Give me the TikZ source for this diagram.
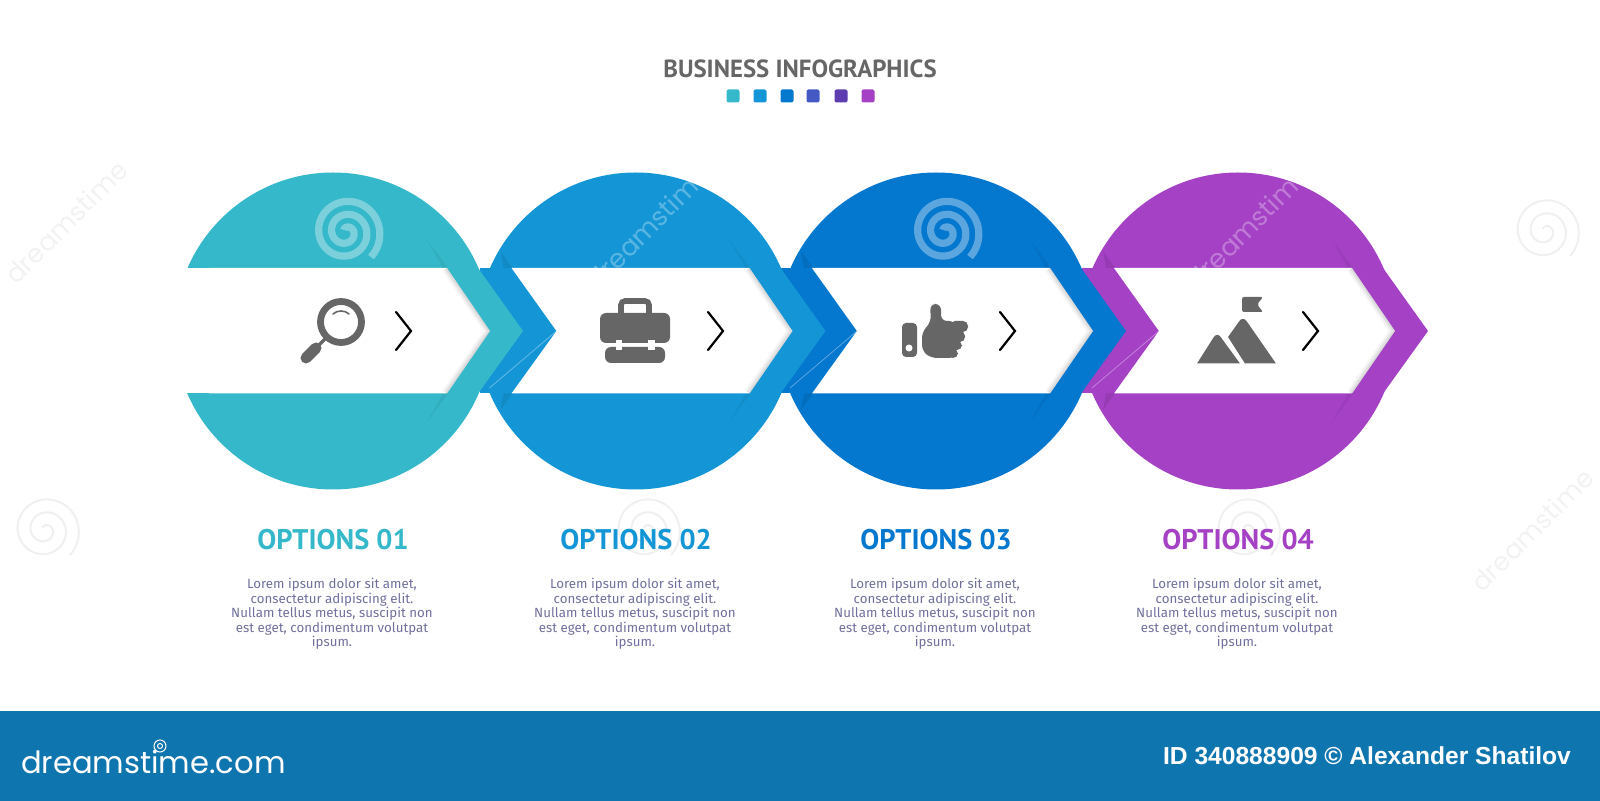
\documentclass[tikz,border=0pt]{standalone}
\usepackage{fontspec}
\usepackage{xcolor}
\setmainfont{Fira Sans}
\newfontfamily\headfont{PT Sans}
\newfontfamily\logofont{Poppins}
\newfontfamily\creditfont{Liberation Sans}
\definecolor{optteal}{RGB}{53, 184, 201}
\definecolor{optblue}{RGB}{20, 150, 214}
\definecolor{optdark}{RGB}{4, 119, 207}
\definecolor{optindigo}{RGB}{69, 89, 196}
\definecolor{optviolet}{RGB}{94, 61, 176}
\definecolor{optpurple}{RGB}{164, 65, 197}
\definecolor{icongray}{RGB}{102, 102, 102}
\definecolor{bodygray}{RGB}{112, 112, 158}
\definecolor{footerblue}{RGB}{15, 117, 174}
\begin{document}
\begin{tikzpicture}[
    x=0.5pt, y=-0.5pt,
    heading/.style={font=\headfont\bfseries\fontsize{14.2}{18}\selectfont},
    bodytext/.style={align=center, text=bodygray, font=\fontsize{6.65}{7.2}\selectfont},
    colordot/.style={rectangle, rounded corners=1pt, minimum size=6.5pt, inner sep=0pt},
    icon/.style={fill=icongray, draw=none},
    pointer/.style={line width=1.1pt, line cap=round, line join=miter},
    swirl/.style={line width=3.6pt, white, opacity=0.35, domain=0:900, samples=90, smooth},
    faintswirl/.style={swirl, line width=1pt, gray, opacity=0.12},
    stamp/.style={rotate=45, font=\logofont\fontsize{13}{13}\selectfont, opacity=0.3, text=white}
]
    \useasboundingbox (0,0) rectangle (1600,801);

    % Circles, chevrons and white arrows, last one first
    \foreach \cx/\col in {1238/optpurple, 936/optdark, 635.5/optblue, 333/optteal} {
        \fill[\col] (\cx,331) circle (158.5);
        \fill[\col] (\cx-156,268) rectangle (\cx,393.5);
        \fill[\col] (\cx+100,268) -- (\cx+145,268) -- (\cx+190,331) -- (\cx+145,393.5) -- (\cx+100,393.5) -- cycle;
        \fill[black, opacity=0.05] (\cx+94,240) -- (\cx+115,268) -- (\cx+110,268) -- cycle;
        \fill[black, opacity=0.05] (\cx+94,422) -- (\cx+115,393.5) -- (\cx+110,393.5) -- cycle;
        \fill[white] (\cx-124,268) -- (\cx+114,268) -- (\cx+157,331) -- (\cx+114,393.5) -- (\cx-124,393.5) -- (\cx-79,331) -- cycle;
        \begin{scope}
            \clip (\cx-124,268) -- (\cx+114,268) -- (\cx+157,331) -- (\cx+114,393.5) -- (\cx-124,393.5) -- (\cx-79,331) -- cycle;
            \foreach \w in {2,4,6,8,11}
                \draw[black, opacity=0.03, line width=\w*0.5pt] (\cx+114,268) -- (\cx+157,331) -- (\cx+114,393.5);
        \end{scope}
        \draw[white, opacity=0.35, line width=0.4pt] (\cx-79,331) -- (\cx-146,388);
    }
    \fill[white] (170,268) rectangle (270,393.5);

    % Shadows beside the notches
    \foreach \cx in {635.5, 936, 1238} {
        \fill[black, opacity=0.08] (\cx-135,251) -- (\cx-123,268) -- (\cx-132,268) -- cycle;
        \fill[black, opacity=0.08] (\cx-135,410) -- (\cx-123,393.5) -- (\cx-132,393.5) -- cycle;
    }

    % Watermarks
    \draw[swirl] plot ({346+(3+\x*0.036)*cos(\x+225)}, {232+(3+\x*0.036)*sin(\x+225)});
    \draw[swirl] plot ({945+(3+\x*0.036)*cos(\x+225)}, {232+(3+\x*0.036)*sin(\x+225)});
    \foreach \wx/\wy in {1545/231, 45/530, 646/530, 1246/530}
        \draw[faintswirl] plot ({\wx+(3+\x*0.036)*cos(\x+225)}, {\wy+(3+\x*0.036)*sin(\x+225)});
    \node[stamp] (stampb) at (648,227) {dreamstime};
    \node[stamp] (stampd) at (1248,227) {dreamstime};
    \node[stamp, text=gray, opacity=0.1] (stampa) at (66,222) {dreamstime};
    \node[stamp, text=gray, opacity=0.1] (stampe) at (1532,530) {dreamstime};

    % Title
    \node[font=\headfont\bfseries\fontsize{12.4}{14}\selectfont, text=icongray] (title) at (800,69) {BUSINESS INFOGRAPHICS};
    \node[colordot, fill=optteal] (dota) at (733,96) {};
    \node[colordot, fill=optblue] (dotb) at (760,96) {};
    \node[colordot, fill=optdark] (dotc) at (787,96) {};
    \node[colordot, fill=optindigo] (dotd) at (813,96) {};
    \node[colordot, fill=optviolet] (dote) at (841,96) {};
    \node[colordot, fill=optpurple] (dotf) at (868,96) {};

    % Magnifier
    \draw[icongray, line width=3.4pt] (341,322) circle (20.5);
    \draw[icongray, line width=0.8pt, line cap=round] (333,314) .. controls (337,310) and (345,310) .. (349,314);
    \draw[icongray, line width=1.6pt] (327,337) -- (318,346);
    \draw[icongray, line width=5.5pt, line cap=round] (316,348) -- (306,358);

    % Briefcase
    \draw[icongray, line width=2.8pt, rounded corners=2pt] (621,313) -- (621,301) -- (649,301) -- (649,313);
    \fill[icon, rounded corners=3pt] (600,313) rectangle (670,343);
    \fill[icon, rounded corners=3pt] (605,347) rectangle (665,363);
    \fill[white] (616,340) rectangle (622,350);
    \fill[white] (648,340) rectangle (655,350);

    % Thumb
    \fill[icon, rounded corners=2pt] (902,323) rectangle (917,357);
    \fill[white] (909,348) circle (3.5);
    \fill[icon, rounded corners=3pt] (922,332) -- (931,322) -- (930,304) -- (941,304) -- (941,321) -- (955,321) -- (955,358) -- (931,358) -- (922,351) -- cycle;
    \fill[icon, rounded corners=2.5pt] (950,321) rectangle (968,332);
    \fill[icon, rounded corners=2.5pt] (950,331) rectangle (965,342);
    \fill[icon, rounded corners=2.5pt] (950,341) rectangle (962,350);
    \fill[icon, rounded corners=2.5pt] (948,349) rectangle (958,358);

    % Mountains
    \fill[icon, rounded corners=1pt] (1242,297) -- (1263,297) -- (1257,304.5) -- (1263,312) -- (1242,312) -- cycle;
    \fill[icon] (1228,337) [rounded corners=3pt] -- (1243,316) [sharp corners] -- (1276,363.5) -- (1245,363.5) -- cycle;
    \fill[icon] (1197,363.5) [rounded corners=3pt] -- (1217,332) [sharp corners] -- (1240,363.5) -- cycle;

    % Small pointers
    \draw[pointer] (396,312) -- (411,331) -- (396,350);
    \draw[pointer] (708,312) -- (723,331) -- (708,350);
    \draw[pointer] (1000,312) -- (1015,331) -- (1000,350);
    \draw[pointer] (1303,312) -- (1318,331) -- (1303,350);

    % Options
    \node[heading, text=optteal] (opta) at (333,540) {OPTIONS 01};
    \node[heading, text=optblue] (optb) at (636,540) {OPTIONS 02};
    \node[heading, text=optdark] (optc) at (936,540) {OPTIONS 03};
    \node[heading, text=optpurple] (optd) at (1238,540) {OPTIONS 04};

    \node[bodytext] (texta) at (332,614) {Lorem ipsum dolor sit amet,\\consectetur adipiscing elit.\\Nullam tellus metus, suscipit non\\est eget, condimentum volutpat\\ipsum.};
    \node[bodytext] (textb) at (635,614) {Lorem ipsum dolor sit amet,\\consectetur adipiscing elit.\\Nullam tellus metus, suscipit non\\est eget, condimentum volutpat\\ipsum.};
    \node[bodytext] (textc) at (935,614) {Lorem ipsum dolor sit amet,\\consectetur adipiscing elit.\\Nullam tellus metus, suscipit non\\est eget, condimentum volutpat\\ipsum.};
    \node[bodytext] (textd) at (1237,614) {Lorem ipsum dolor sit amet,\\consectetur adipiscing elit.\\Nullam tellus metus, suscipit non\\est eget, condimentum volutpat\\ipsum.};

    % Footer
    \fill[footerblue] (0,711) rectangle (1600,801);
    \node[anchor=west, text=white, font=\logofont\fontsize{15.3}{18}\selectfont] (logo) at (14,762) {dreamstime.com};
    \draw[white, line width=0.5pt] (160,746) circle (6);
    \draw[white, line width=0.5pt] (160,746) circle (2.5);
    \node[anchor=east, text=white, font=\creditfont\bfseries\fontsize{12.3}{14}\selectfont] (credit) at (1578,756) {ID 340888909 © Alexander Shatilov};
\end{tikzpicture}
\end{document}
